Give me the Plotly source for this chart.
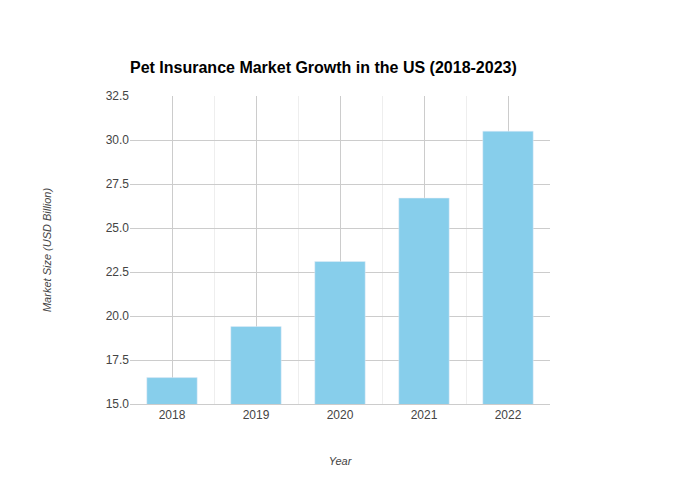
import plotly.graph_objects as go

years = [2018, 2019, 2020, 2021, 2022]
year_labels = ["2018", "2019", "2020", "2021", "2022"]
market_size = [16.5, 19.4, 23.1, 26.7, 30.5]

fig = go.Figure(go.Bar(x=years, y=market_size, marker_color="#87CEEB", width=0.6))

fig.update_layout(
    width=680, height=500,
    margin=dict(l=122, r=138, t=88, b=104),
    paper_bgcolor="white", plot_bgcolor="white",
    font=dict(family="Arial, Liberation Sans, sans-serif", size=12, color="#444"),
    title=dict(text="<b>Pet Insurance Market Growth in the US (2018-2023)</b>",
               x=0, xref="paper", xanchor="left", y=0.882, yanchor="middle",
               font=dict(size=16, color="black")),
    showlegend=False,
)
fig.update_xaxes(
    range=[2017.5, 2022.5], tickvals=years, ticktext=year_labels,
    showgrid=True, gridcolor="#ccc",
    minor=dict(showgrid=True, dtick=0.5, gridcolor="#eee"),
    showline=True, linecolor="#ccc", ticks="",
    title=dict(text="<i>Year</i>", font=dict(size=11, color="#444"), standoff=35),
)
fig.update_yaxes(
    range=[15, 32.5], dtick=2.5, tick0=15, tickformat=".1f",
    showgrid=True, gridcolor="#ccc", zeroline=False,
    title=dict(text="<i>Market Size (USD Billion)</i>", font=dict(size=11, color="#444"), standoff=51),
)

fig.write_html("out.html")
